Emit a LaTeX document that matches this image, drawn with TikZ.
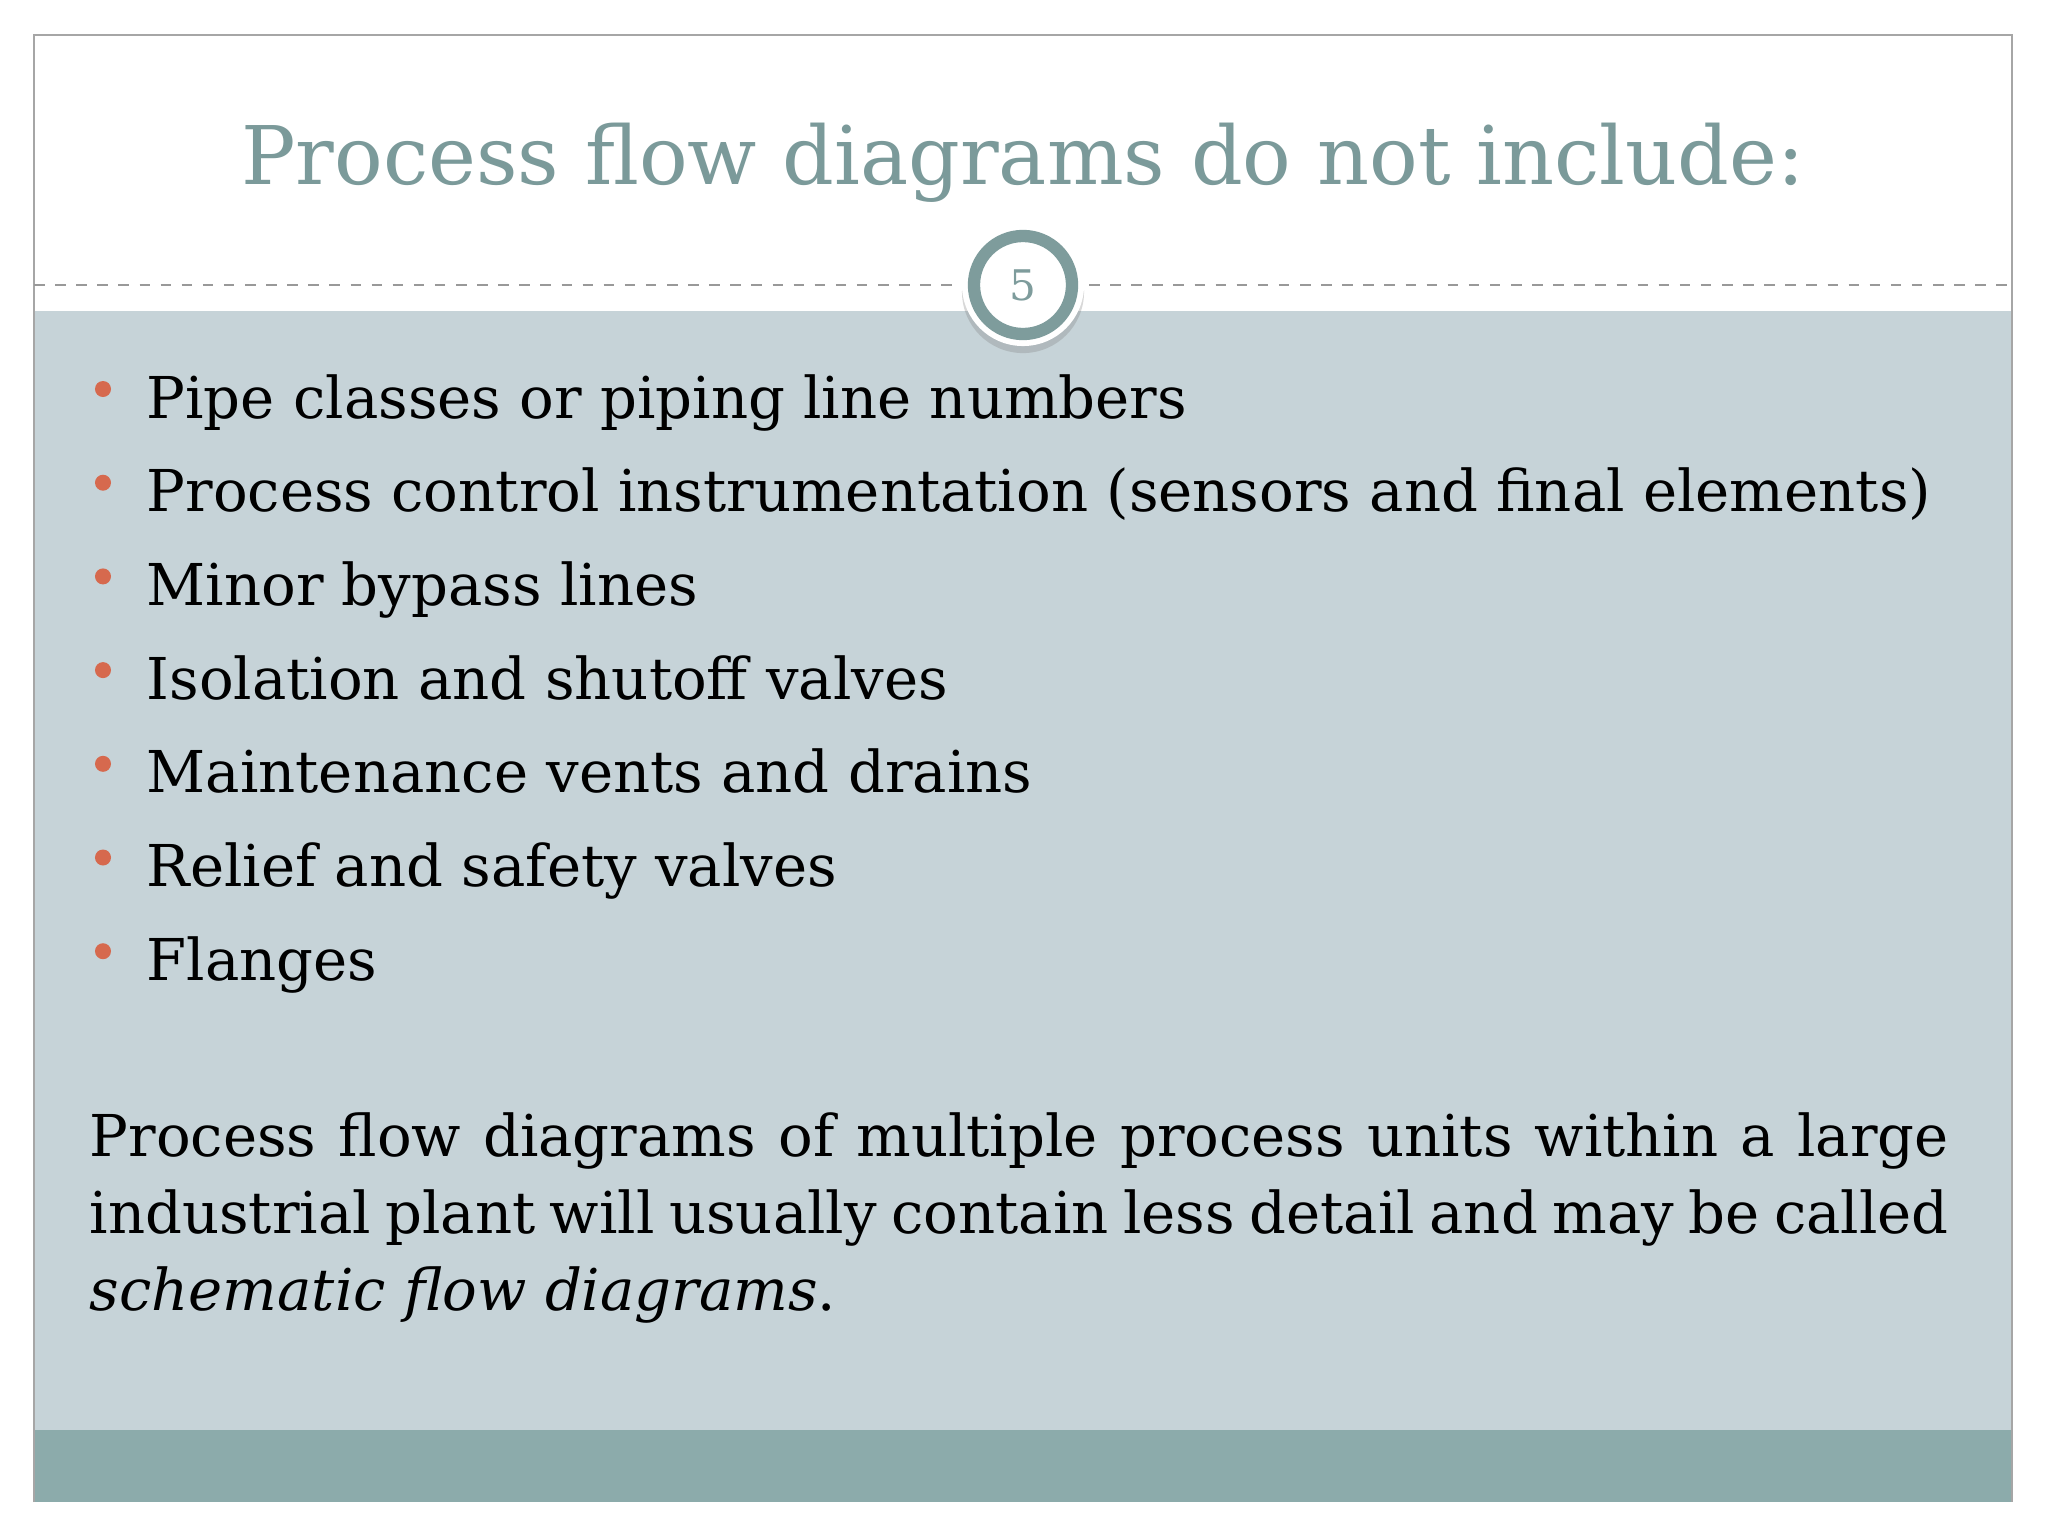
\documentclass[tikz,border=0pt]{standalone}
\usepackage{fontspec}
\usetikzlibrary{shadows}
\setmainfont{DejaVu Serif}
\definecolor{bodyc}{HTML}{C6D3D8}
\definecolor{bandc}{HTML}{8CABAB}
\definecolor{titlec}{HTML}{7B9A9A}
\definecolor{bulc}{HTML}{D6694E}
\definecolor{ringc}{HTML}{7E9C9C}
\begin{document}
\begin{tikzpicture}[x=0.01cm,y=-0.01cm,
  item/.style={anchor=base west,inner sep=0pt,font=\fontsize{16.4pt}{21pt}\selectfont,text=black},
  bul/.style={circle,fill=bulc,inner sep=0pt,minimum size=0.16cm}]
\useasboundingbox (0,0) rectangle (2048,1536);
\fill[white] (0,0) rectangle (2048,1536);
\fill[bodyc] (34,311) rectangle (2012,1430);
\fill[bandc] (34,1430) rectangle (2012,1502);
\draw[gray!70,line width=0.8pt] (34,1502) -- (34,35) -- (2012,35) -- (2012,1502);
\draw[gray!80,dashed,line width=0.5pt] (34,285) -- (2012,285);
\node[font=\fontsize{23pt}{28pt}\selectfont,text=titlec,inner sep=0pt] (title) at (1023,163) {Process flow diagrams do not include:};
\node[circle,fill=white,minimum size=1.22cm,inner sep=0pt,drop shadow={opacity=0.3,shadow xshift=0pt,shadow yshift=-2pt}] (c1) at (1023,285) {};
\node[circle,draw=ringc,line width=3.5pt,fill=white,minimum size=0.98cm,inner sep=0pt,text=ringc,font=\fontsize{12pt}{14pt}\selectfont] (num) at (1023,285) {5};
\foreach \t [count=\i] in {Pipe classes or piping line numbers,Process control instrumentation (sensors and final elements),Minor bypass lines,Isolation and shutoff valves,Maintenance vents and drains,Relief and safety valves,Flanges}{
  \node[bul] (b\i) at (103,{389+93.7*(\i-1)}) {};
  \node[item] (t\i) at (146,{418+93.7*(\i-1)}) {\t};
}
\node[anchor=north west,inner sep=0pt,text width=18.58cm,align=justify,font=\fontsize{16.4pt}{21.9pt}\selectfont] (para) at (89,1112) {Process flow diagrams of multiple process units within a large industrial plant will usually contain less detail and may be called \textit{schematic flow diagrams}.};
\end{tikzpicture}
\end{document}
